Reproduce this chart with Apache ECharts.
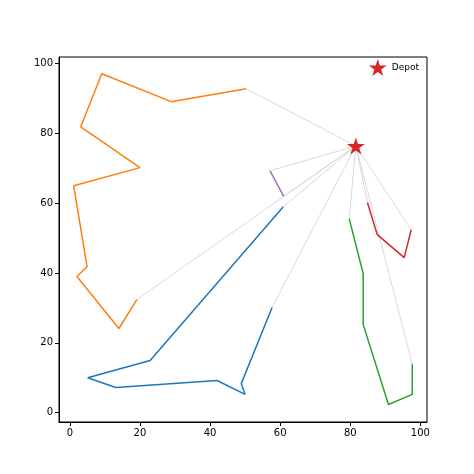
<!DOCTYPE html>
<html>
<head>
<meta charset="utf-8">
<script src="https://cdn.jsdelivr.net/npm/echarts@6/dist/echarts.min.js"></script>
<style>html,body{margin:0;padding:0;background:#fff}#c{width:474px;height:474px}</style>
</head>
<body>
<div id="c"></div>
<script>
const depot = [81.6, 76.4];
const routeBlue = [[60.9,59.0],[22.9,14.9],[5.1,10.0],[13.1,7.2],[42.0,9.2],[50.0,5.2],[48.9,8.3],[57.7,30.1]];
const routeOrange = [[50.3,92.8],[28.9,89.1],[9.1,97.1],[3.1,81.9],[20.0,70.2],[1.1,65.0],[4.9,41.8],[2.0,39.0],[14.0,24.1],[19.1,32.4]];
const routeGreen = [[79.7,55.6],[83.7,39.8],[83.7,25.2],[90.9,2.3],[97.7,5.2],[97.7,14.0]];
const routeRed = [[84.9,60.2],[87.7,51.0],[95.4,44.4],[97.4,52.4]];
const routePurple = [[57.1,69.3],[61.0,62.0]];
const tickValues = [0, 20, 40, 60, 80, 100];

const routes = [routeBlue, routeOrange, routeGreen, routeRed, routePurple];
const colors = ['#1f77b4', '#ff7f0e', '#2ca02c', '#d62728', '#9467bd'];
const starPath = 'path://M0,-1 L0.2245,-0.309 L0.951,-0.309 L0.363,0.118 L0.588,0.809 L0,0.382 L-0.588,0.809 L-0.363,0.118 L-0.951,-0.309 L-0.2245,-0.309 Z';

const series = [];
routes.forEach(r => {
  series.push({type:'line', data:[depot, r[0]], symbol:'none', silent:true,
    lineStyle:{color:'#d9d9d9', width:1}, z:1});
  series.push({type:'line', data:[r[r.length-1], depot], symbol:'none', silent:true,
    lineStyle:{color:'#d9d9d9', width:1}, z:1});
});
routes.forEach((r, i) => {
  series.push({type:'line', data:r, symbol:'none', silent:true,
    lineStyle:{color:colors[i], width:1.5}, z:2});
});
series.push({type:'scatter', name:'Depot', data:[depot], symbol:starPath,
  symbolSize:[18,17], itemStyle:{color:'#d62728', opacity:1}, z:5});

const axisCommon = {
  axisLine:{show:true, onZero:false, lineStyle:{color:'#000', width:1}},
  axisTick:{show:true, customValues:tickValues, length:4, lineStyle:{color:'#000'}},
  axisLabel:{customValues:tickValues, color:'#000', fontFamily:'DejaVu Sans', fontSize:10, margin:6},
  splitLine:{show:false}
};

const chart = echarts.init(document.getElementById('c'), null, {renderer:'canvas'});
chart.setOption({
  animation:false,
  backgroundColor:'#fff',
  grid:{left:59, right:47, top:57, bottom:52, show:true, borderColor:'#000', borderWidth:1, backgroundColor:'transparent'},
  xAxis:Object.assign({type:'value', min:-3.1, max:101.9}, axisCommon),
  yAxis:Object.assign({type:'value', min:-2.7, max:101.9}, axisCommon),
  legend:{data:[{name:'Depot', icon:starPath, itemStyle:{color:'#d62728', opacity:1}}],
    right:55, top:59, padding:0, itemWidth:18, itemHeight:17, itemGap:8,
    textStyle:{fontFamily:'DejaVu Sans', fontSize:9, color:'#000'}},
  series:series
});
</script>
</body>
</html>
